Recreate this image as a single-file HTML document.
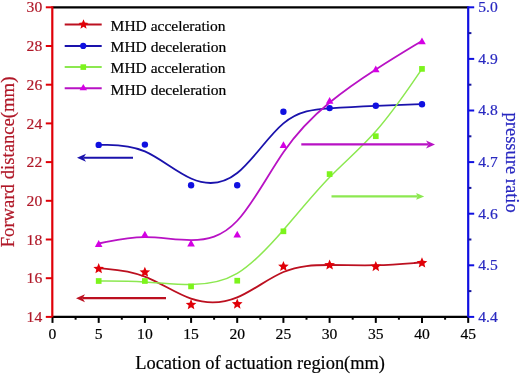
<!DOCTYPE html><html><head><meta charset="utf-8"><style>html,body{margin:0;padding:0;background:#fff;}body{width:520px;height:374px;overflow:hidden;position:relative;}svg{position:absolute;left:0;top:0;}</style></head><body>
<svg width="520" height="374" viewBox="0 0 520 374">
<rect width="520" height="374" fill="#fff"/>
<path d="M98.69,268.20 C98.69,268.20 98.69,268.20 106.38,268.80 C114.08,269.40 129.47,270.60 144.87,276.60 C160.27,282.60 175.66,293.40 191.05,298.70 C206.45,304.00 221.85,303.80 237.24,297.43 C252.63,291.07 268.03,278.53 283.43,272.02 C298.82,265.50 314.21,265.00 329.61,265.02 C345.01,265.03 360.40,265.57 375.80,265.22 C391.19,264.87 406.59,263.63 414.28,263.02 C421.98,262.40 421.98,262.40 421.98,262.40" fill="none" stroke="#bc1020" stroke-width="1.8" stroke-linejoin="round"/>
<polygon points="98.69,263.10 100.17,266.66 104.01,266.97 101.08,269.48 101.98,273.23 98.69,271.22 95.39,273.23 96.29,269.48 93.36,266.97 97.20,266.66" fill="#e00008"/>
<polygon points="144.87,266.70 146.35,270.26 150.20,270.57 147.27,273.08 148.16,276.83 144.87,274.82 141.58,276.83 142.47,273.08 139.54,270.57 143.39,270.26" fill="#e00008"/>
<polygon points="191.06,299.10 192.54,302.66 196.38,302.97 193.45,305.48 194.35,309.23 191.06,307.22 187.76,309.23 188.66,305.48 185.73,302.97 189.57,302.66" fill="#e00008"/>
<polygon points="237.24,298.50 238.72,302.06 242.57,302.37 239.64,304.88 240.53,308.63 237.24,306.62 233.95,308.63 234.84,304.88 231.91,302.37 235.76,302.06" fill="#e00008"/>
<polygon points="283.43,260.90 284.91,264.46 288.75,264.77 285.82,267.28 286.72,271.03 283.43,269.02 280.13,271.03 281.03,267.28 278.10,264.77 281.94,264.46" fill="#e00008"/>
<polygon points="329.61,259.40 331.09,262.96 334.94,263.27 332.01,265.78 332.90,269.53 329.61,267.52 326.32,269.53 327.21,265.78 324.28,263.27 328.13,262.96" fill="#e00008"/>
<polygon points="375.80,261.00 377.28,264.56 381.12,264.87 378.19,267.38 379.09,271.13 375.80,269.12 372.50,271.13 373.40,267.38 370.47,264.87 374.31,264.56" fill="#e00008"/>
<polygon points="421.98,257.30 423.46,260.86 427.31,261.17 424.38,263.68 425.27,267.43 421.98,265.42 418.69,267.43 419.58,263.68 416.65,261.17 420.50,260.86" fill="#e00008"/>
<path d="M98.69,144.90 C98.69,144.90 98.69,144.90 106.38,144.85 C114.08,144.80 129.47,144.70 144.87,151.43 C160.27,158.17 175.66,171.73 191.05,178.52 C206.45,185.30 221.85,185.30 237.24,173.05 C252.63,160.80 268.03,136.30 283.43,123.43 C298.82,110.57 314.21,109.33 329.61,108.33 C345.01,107.33 360.40,106.57 375.80,105.92 C391.19,105.27 406.59,104.73 414.28,104.47 C421.98,104.20 421.98,104.20 421.98,104.20" fill="none" stroke="#1a12ac" stroke-width="1.8" stroke-linejoin="round"/>
<circle cx="98.7" cy="144.9" r="3.2" fill="#1010e0"/>
<circle cx="144.9" cy="144.6" r="3.2" fill="#1010e0"/>
<circle cx="191.1" cy="185.3" r="3.2" fill="#1010e0"/>
<circle cx="237.2" cy="185.3" r="3.2" fill="#1010e0"/>
<circle cx="283.4" cy="111.8" r="3.2" fill="#1010e0"/>
<circle cx="329.6" cy="108.1" r="3.2" fill="#1010e0"/>
<circle cx="375.8" cy="105.8" r="3.2" fill="#1010e0"/>
<circle cx="422.0" cy="104.2" r="3.2" fill="#1010e0"/>
<path d="M98.69,281.00 C98.69,281.00 98.69,281.00 106.38,281.00 C114.08,281.00 129.47,281.00 144.87,281.90 C160.27,282.80 175.66,284.60 191.05,284.55 C206.45,284.50 221.85,282.60 237.24,273.42 C252.63,264.23 268.03,247.77 283.43,230.00 C298.82,212.23 314.21,193.17 329.61,177.32 C345.01,161.47 360.40,148.83 375.80,131.30 C391.19,113.77 406.59,91.33 414.28,80.12 C421.98,68.90 421.98,68.90 421.98,68.90" fill="none" stroke="#8ce850" stroke-width="1.5" stroke-linejoin="round"/>
<rect x="95.84" y="278.15" width="5.7" height="5.7" fill="#7cf41c"/>
<rect x="142.02" y="278.15" width="5.7" height="5.7" fill="#7cf41c"/>
<rect x="188.21" y="283.55" width="5.7" height="5.7" fill="#7cf41c"/>
<rect x="234.39" y="277.85" width="5.7" height="5.7" fill="#7cf41c"/>
<rect x="280.57" y="228.45" width="5.7" height="5.7" fill="#7cf41c"/>
<rect x="326.76" y="171.25" width="5.7" height="5.7" fill="#7cf41c"/>
<rect x="372.94" y="133.35" width="5.7" height="5.7" fill="#7cf41c"/>
<rect x="419.13" y="66.05" width="5.7" height="5.7" fill="#7cf41c"/>
<path d="M98.69,243.50 C98.69,243.50 98.69,243.50 106.38,241.93 C114.08,240.37 129.47,237.23 144.87,237.15 C160.27,237.07 175.66,240.03 191.05,240.05 C206.45,240.07 221.85,237.13 237.24,220.75 C252.63,204.37 268.03,174.53 283.43,152.23 C298.82,129.93 314.21,115.17 329.61,102.53 C345.01,89.90 360.40,79.40 375.80,69.48 C391.19,59.57 406.59,50.23 414.28,45.57 C421.98,40.90 421.98,40.90 421.98,40.90" fill="none" stroke="#b812c4" stroke-width="1.8" stroke-linejoin="round"/>
<polygon points="98.69,240.10 102.48,246.90 94.89,246.90" fill="#d400e4"/>
<polygon points="144.87,230.70 148.67,237.50 141.07,237.50" fill="#d400e4"/>
<polygon points="191.06,239.60 194.86,246.40 187.25,246.40" fill="#d400e4"/>
<polygon points="237.24,230.80 241.04,237.60 233.44,237.60" fill="#d400e4"/>
<polygon points="283.43,141.30 287.23,148.10 279.62,148.10" fill="#d400e4"/>
<polygon points="329.61,97.00 333.41,103.80 325.81,103.80" fill="#d400e4"/>
<polygon points="375.80,65.50 379.60,72.30 372.00,72.30" fill="#d400e4"/>
<polygon points="421.98,37.50 425.78,44.30 418.18,44.30" fill="#d400e4"/>
<line x1="133.0" y1="157.7" x2="83.5" y2="157.7" stroke="#1a12ac" stroke-width="2.1"/><polygon points="77.0,157.7 86.0,153.7 83.5,157.7 86.0,161.7" fill="#1a12ac"/>
<line x1="166.0" y1="298.2" x2="82.5" y2="298.2" stroke="#bc1020" stroke-width="2.2"/><polygon points="76.0,298.2 85.0,294.2 82.5,298.2 85.0,302.2" fill="#bc1020"/>
<line x1="331.5" y1="196.4" x2="417.4" y2="196.4" stroke="#8ce850" stroke-width="2.1"/><polygon points="424.2,196.4 416.2,193.0 417.4,196.4 416.2,199.8" fill="#8ce850"/>
<line x1="301.3" y1="144.4" x2="428.5" y2="144.4" stroke="#b812c4" stroke-width="2.1"/><polygon points="435.0,144.4 426.0,140.4 428.5,144.4 426.0,148.4" fill="#b812c4"/>
<line x1="52.3" y1="7.3" x2="468.2" y2="7.3" stroke="#000" stroke-width="2.2"/>
<line x1="52.3" y1="316.9" x2="468.2" y2="316.9" stroke="#000" stroke-width="2.2"/>
<line x1="52.3" y1="6.199999999999999" x2="52.3" y2="318.0" stroke="#e00008" stroke-width="2.2"/>
<line x1="468.2" y1="6.199999999999999" x2="468.2" y2="318.0" stroke="#1010e0" stroke-width="2.2"/>
<line x1="52.5" y1="316.9" x2="52.5" y2="322.9" stroke="#000" stroke-width="2"/>
<text x="52.5" y="338.6" text-anchor="middle" font-family="Liberation Serif, serif" font-size="15.6" fill="#000" stroke="#000" stroke-width="0.2">0</text>
<line x1="98.7" y1="316.9" x2="98.7" y2="322.9" stroke="#000" stroke-width="2"/>
<text x="98.7" y="338.6" text-anchor="middle" font-family="Liberation Serif, serif" font-size="15.6" fill="#000" stroke="#000" stroke-width="0.2">5</text>
<line x1="144.9" y1="316.9" x2="144.9" y2="322.9" stroke="#000" stroke-width="2"/>
<text x="144.9" y="338.6" text-anchor="middle" font-family="Liberation Serif, serif" font-size="15.6" fill="#000" stroke="#000" stroke-width="0.2">10</text>
<line x1="191.1" y1="316.9" x2="191.1" y2="322.9" stroke="#000" stroke-width="2"/>
<text x="191.1" y="338.6" text-anchor="middle" font-family="Liberation Serif, serif" font-size="15.6" fill="#000" stroke="#000" stroke-width="0.2">15</text>
<line x1="237.2" y1="316.9" x2="237.2" y2="322.9" stroke="#000" stroke-width="2"/>
<text x="237.2" y="338.6" text-anchor="middle" font-family="Liberation Serif, serif" font-size="15.6" fill="#000" stroke="#000" stroke-width="0.2">20</text>
<line x1="283.4" y1="316.9" x2="283.4" y2="322.9" stroke="#000" stroke-width="2"/>
<text x="283.4" y="338.6" text-anchor="middle" font-family="Liberation Serif, serif" font-size="15.6" fill="#000" stroke="#000" stroke-width="0.2">25</text>
<line x1="329.6" y1="316.9" x2="329.6" y2="322.9" stroke="#000" stroke-width="2"/>
<text x="329.6" y="338.6" text-anchor="middle" font-family="Liberation Serif, serif" font-size="15.6" fill="#000" stroke="#000" stroke-width="0.2">30</text>
<line x1="375.8" y1="316.9" x2="375.8" y2="322.9" stroke="#000" stroke-width="2"/>
<text x="375.8" y="338.6" text-anchor="middle" font-family="Liberation Serif, serif" font-size="15.6" fill="#000" stroke="#000" stroke-width="0.2">35</text>
<line x1="422.0" y1="316.9" x2="422.0" y2="322.9" stroke="#000" stroke-width="2"/>
<text x="422.0" y="338.6" text-anchor="middle" font-family="Liberation Serif, serif" font-size="15.6" fill="#000" stroke="#000" stroke-width="0.2">40</text>
<line x1="468.2" y1="316.9" x2="468.2" y2="322.9" stroke="#000" stroke-width="2"/>
<text x="468.2" y="338.6" text-anchor="middle" font-family="Liberation Serif, serif" font-size="15.6" fill="#000" stroke="#000" stroke-width="0.2">45</text>
<line x1="75.6" y1="316.9" x2="75.6" y2="319.7" stroke="#000" stroke-width="2"/>
<line x1="121.8" y1="316.9" x2="121.8" y2="319.7" stroke="#000" stroke-width="2"/>
<line x1="168.0" y1="316.9" x2="168.0" y2="319.7" stroke="#000" stroke-width="2"/>
<line x1="214.1" y1="316.9" x2="214.1" y2="319.7" stroke="#000" stroke-width="2"/>
<line x1="260.3" y1="316.9" x2="260.3" y2="319.7" stroke="#000" stroke-width="2"/>
<line x1="306.5" y1="316.9" x2="306.5" y2="319.7" stroke="#000" stroke-width="2"/>
<line x1="352.7" y1="316.9" x2="352.7" y2="319.7" stroke="#000" stroke-width="2"/>
<line x1="398.9" y1="316.9" x2="398.9" y2="319.7" stroke="#000" stroke-width="2"/>
<line x1="445.1" y1="316.9" x2="445.1" y2="319.7" stroke="#000" stroke-width="2"/>
<line x1="45.8" y1="316.9" x2="52.3" y2="316.9" stroke="#e00008" stroke-width="2"/>
<text x="42.2" y="322.0" text-anchor="end" font-family="Liberation Serif, serif" font-size="15.6" fill="#b01828" stroke="#b01828" stroke-width="0.2">14</text>
<line x1="45.8" y1="278.2" x2="52.3" y2="278.2" stroke="#e00008" stroke-width="2"/>
<text x="42.2" y="283.3" text-anchor="end" font-family="Liberation Serif, serif" font-size="15.6" fill="#b01828" stroke="#b01828" stroke-width="0.2">16</text>
<line x1="45.8" y1="239.5" x2="52.3" y2="239.5" stroke="#e00008" stroke-width="2"/>
<text x="42.2" y="244.6" text-anchor="end" font-family="Liberation Serif, serif" font-size="15.6" fill="#b01828" stroke="#b01828" stroke-width="0.2">18</text>
<line x1="45.8" y1="200.8" x2="52.3" y2="200.8" stroke="#e00008" stroke-width="2"/>
<text x="42.2" y="205.9" text-anchor="end" font-family="Liberation Serif, serif" font-size="15.6" fill="#b01828" stroke="#b01828" stroke-width="0.2">20</text>
<line x1="45.8" y1="162.1" x2="52.3" y2="162.1" stroke="#e00008" stroke-width="2"/>
<text x="42.2" y="167.2" text-anchor="end" font-family="Liberation Serif, serif" font-size="15.6" fill="#b01828" stroke="#b01828" stroke-width="0.2">22</text>
<line x1="45.8" y1="123.4" x2="52.3" y2="123.4" stroke="#e00008" stroke-width="2"/>
<text x="42.2" y="128.5" text-anchor="end" font-family="Liberation Serif, serif" font-size="15.6" fill="#b01828" stroke="#b01828" stroke-width="0.2">24</text>
<line x1="45.8" y1="84.7" x2="52.3" y2="84.7" stroke="#e00008" stroke-width="2"/>
<text x="42.2" y="89.8" text-anchor="end" font-family="Liberation Serif, serif" font-size="15.6" fill="#b01828" stroke="#b01828" stroke-width="0.2">26</text>
<line x1="45.8" y1="46.0" x2="52.3" y2="46.0" stroke="#e00008" stroke-width="2"/>
<text x="42.2" y="51.1" text-anchor="end" font-family="Liberation Serif, serif" font-size="15.6" fill="#b01828" stroke="#b01828" stroke-width="0.2">28</text>
<line x1="45.8" y1="7.3" x2="52.3" y2="7.3" stroke="#e00008" stroke-width="2"/>
<text x="42.2" y="12.4" text-anchor="end" font-family="Liberation Serif, serif" font-size="15.6" fill="#b01828" stroke="#b01828" stroke-width="0.2">30</text>
<line x1="468.2" y1="7.3" x2="474.2" y2="7.3" stroke="#1010e0" stroke-width="2"/>
<text x="478.2" y="12.2" font-family="Liberation Serif, serif" font-size="15.6" fill="#2828c0" stroke="#2828c0" stroke-width="0.2">5.0</text>
<line x1="468.2" y1="58.9" x2="474.2" y2="58.9" stroke="#1010e0" stroke-width="2"/>
<text x="478.2" y="63.8" font-family="Liberation Serif, serif" font-size="15.6" fill="#2828c0" stroke="#2828c0" stroke-width="0.2">4.9</text>
<line x1="468.2" y1="110.5" x2="474.2" y2="110.5" stroke="#1010e0" stroke-width="2"/>
<text x="478.2" y="115.4" font-family="Liberation Serif, serif" font-size="15.6" fill="#2828c0" stroke="#2828c0" stroke-width="0.2">4.8</text>
<line x1="468.2" y1="162.1" x2="474.2" y2="162.1" stroke="#1010e0" stroke-width="2"/>
<text x="478.2" y="167.0" font-family="Liberation Serif, serif" font-size="15.6" fill="#2828c0" stroke="#2828c0" stroke-width="0.2">4.7</text>
<line x1="468.2" y1="213.7" x2="474.2" y2="213.7" stroke="#1010e0" stroke-width="2"/>
<text x="478.2" y="218.6" font-family="Liberation Serif, serif" font-size="15.6" fill="#2828c0" stroke="#2828c0" stroke-width="0.2">4.6</text>
<line x1="468.2" y1="265.3" x2="474.2" y2="265.3" stroke="#1010e0" stroke-width="2"/>
<text x="478.2" y="270.2" font-family="Liberation Serif, serif" font-size="15.6" fill="#2828c0" stroke="#2828c0" stroke-width="0.2">4.5</text>
<line x1="468.2" y1="316.9" x2="474.2" y2="316.9" stroke="#1010e0" stroke-width="2"/>
<text x="478.2" y="321.8" font-family="Liberation Serif, serif" font-size="15.6" fill="#2828c0" stroke="#2828c0" stroke-width="0.2">4.4</text>
<line x1="468.2" y1="33.1" x2="471.4" y2="33.1" stroke="#1818a0" stroke-width="2"/>
<line x1="468.2" y1="84.7" x2="471.4" y2="84.7" stroke="#1818a0" stroke-width="2"/>
<line x1="468.2" y1="136.3" x2="471.4" y2="136.3" stroke="#1818a0" stroke-width="2"/>
<line x1="468.2" y1="187.9" x2="471.4" y2="187.9" stroke="#1818a0" stroke-width="2"/>
<line x1="468.2" y1="239.5" x2="471.4" y2="239.5" stroke="#1818a0" stroke-width="2"/>
<line x1="468.2" y1="291.1" x2="471.4" y2="291.1" stroke="#1818a0" stroke-width="2"/>
<text x="260.1" y="369.2" text-anchor="middle" font-family="Liberation Serif, serif" font-size="18.4" fill="#000" stroke="#000" stroke-width="0.2">Location of actuation region(mm)</text>
<text transform="translate(14.3,162.0) rotate(-90)" text-anchor="middle" font-family="Liberation Serif, serif" font-size="18.7" fill="#b01828" stroke="#b01828" stroke-width="0.2">Forward distance(mm)</text>
<text transform="translate(505.9,162.6) rotate(90)" text-anchor="middle" font-family="Liberation Serif, serif" font-size="18.5" fill="#2828c0" stroke="#2828c0" stroke-width="0.2">pressure ratio</text>
<line x1="64.7" y1="24.5" x2="101.7" y2="24.5" stroke="#bc1020" stroke-width="2"/>
<polygon points="83.50,19.30 84.88,22.61 88.45,22.89 85.73,25.22 86.56,28.71 83.50,26.84 80.44,28.71 81.27,25.22 78.55,22.89 82.12,22.61" fill="#e00008"/>
<text x="110.6" y="30.7" font-family="Liberation Serif, serif" font-size="15.5" fill="#000" stroke="#000" stroke-width="0.2">MHD acceleration</text>
<line x1="64.7" y1="45.9" x2="101.7" y2="45.9" stroke="#1a12ac" stroke-width="2"/>
<circle cx="83.2" cy="45.9" r="3.1" fill="#1010e0"/>
<text x="110.6" y="52.1" font-family="Liberation Serif, serif" font-size="15.5" fill="#000" stroke="#000" stroke-width="0.2">MHD deceleration</text>
<line x1="64.7" y1="67.1" x2="101.7" y2="67.1" stroke="#8ce850" stroke-width="2"/>
<rect x="80.50" y="64.30" width="5.6" height="5.6" fill="#7cf41c"/>
<text x="110.6" y="73.3" font-family="Liberation Serif, serif" font-size="15.5" fill="#000" stroke="#000" stroke-width="0.2">MHD acceleration</text>
<line x1="64.7" y1="88.3" x2="101.7" y2="88.3" stroke="#b812c4" stroke-width="2"/>
<polygon points="83.30,83.90 87.00,90.30 79.60,90.30" fill="#d400e4"/>
<text x="110.6" y="94.5" font-family="Liberation Serif, serif" font-size="15.5" fill="#000" stroke="#000" stroke-width="0.2">MHD deceleration</text>
</svg></body></html>
